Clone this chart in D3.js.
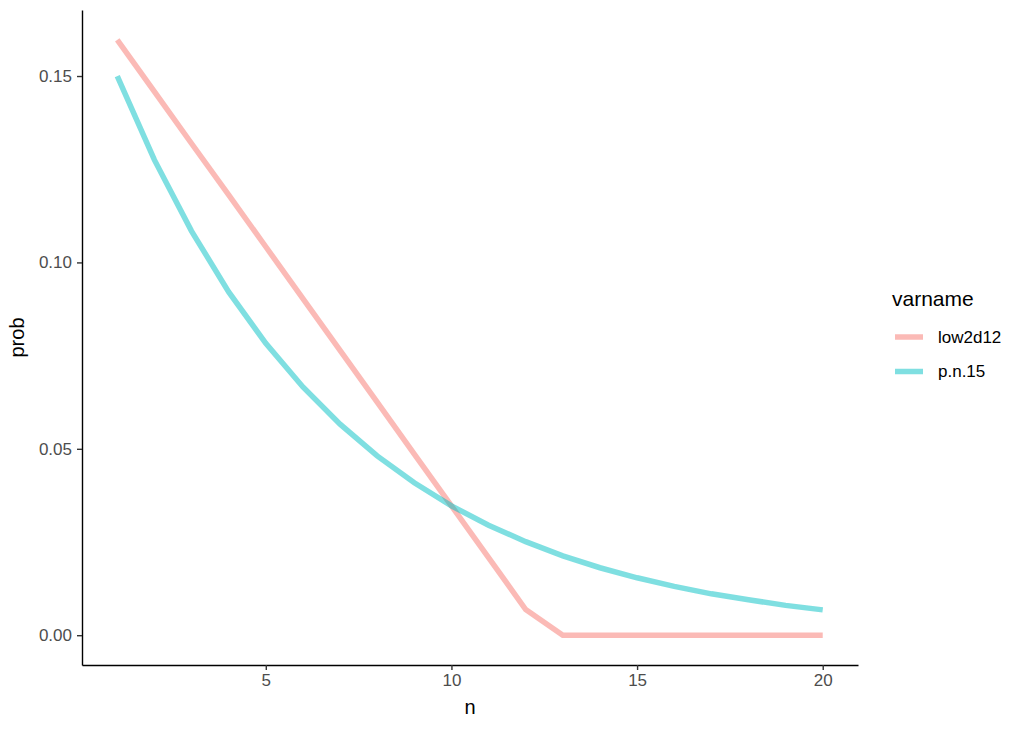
<!DOCTYPE html>
<html>
<head>
<meta charset="utf-8">
<script src="https://cdn.jsdelivr.net/npm/d3@7"></script>
<style>
  body { margin: 0; background: #fff; }
  text { font-family: "Liberation Sans", Arial, sans-serif; }
</style>
</head>
<body>
<div id="chart"></div>
<script>
let width = 1024, height = 731;

// data
const nValues = [1, 2, 3, 4, 5, 6, 7, 8, 9, 10, 11, 12, 13, 14, 15, 16, 17, 18, 19, 20];
const low2d12 = [0.1597, 0.1458, 0.1319, 0.1181, 0.1042, 0.0903, 0.0764, 0.0625, 0.0486, 0.0347,
  0.0208, 0.0069, 0, 0, 0, 0, 0, 0, 0, 0];
const pn15 = [0.15, 0.1275, 0.1084, 0.0921, 0.0783, 0.0666, 0.0566, 0.0481, 0.0409, 0.0347,
  0.0295, 0.0251, 0.0213, 0.0181, 0.0154, 0.0131, 0.0111, 0.0095, 0.0080, 0.0068];
const seriesNames = ['low2d12', 'p.n.15'];
const seriesColors = ['#F8766D', '#00BFC4'];
const xTicks = [5, 10, 15, 20];
const yTicks = [0, 0.05, 0.10, 0.15];

const series = [low2d12, pn15];

const plotLeft = 82, plotRight = 858, plotTop = 10, plotBottom = 665;

const svg = d3.select('#chart').append('svg')
  .attr('width', width)
  .attr('height', height);

const x = d3.scaleLinear()
  .domain([0.05, 20.95])
  .range([plotLeft, plotRight]);

const y = d3.scaleLinear()
  .domain([-0.00799, 0.16771])
  .range([plotBottom, plotTop]);

// lines
const line = d3.line()
  .x((d, i) => x(nValues[i]))
  .y(d => y(d));

svg.append('g').selectAll('path')
  .data(series)
  .join('path')
    .attr('d', line)
    .attr('fill', 'none')
    .attr('stroke', (d, i) => seriesColors[i])
    .attr('stroke-opacity', 0.5)
    .attr('stroke-width', 5.5);

// axes
const xAxis = svg.append('g')
  .attr('transform', `translate(0,${plotBottom})`)
  .call(d3.axisBottom(x).tickValues(xTicks).tickFormat(d3.format('d')).tickSize(5).tickSizeOuter(0).tickPadding(4));

const yAxis = svg.append('g')
  .attr('transform', `translate(${plotLeft},0)`)
  .call(d3.axisLeft(y).tickValues(yTicks).tickFormat(d3.format('.2f')).tickSize(5).tickSizeOuter(0).tickPadding(5));

[xAxis, yAxis].forEach(a => {
  a.select('.domain').attr('stroke', '#000').attr('stroke-width', 1.4);
  a.selectAll('.tick line').attr('stroke', '#333').attr('stroke-width', 1.4);
  a.selectAll('.tick text').attr('fill', '#4D4D4D').style('font-size', '17px');
});

// axis titles
svg.append('text')
  .attr('x', (plotLeft + plotRight) / 2)
  .attr('y', 714)
  .attr('text-anchor', 'middle')
  .style('font-size', '20px')
  .attr('fill', '#000')
  .text('n');

svg.append('text')
  .attr('transform', `translate(24,${(plotTop + plotBottom) / 2}) rotate(-90)`)
  .attr('text-anchor', 'middle')
  .style('font-size', '20px')
  .attr('fill', '#000')
  .text('prob');

// legend
const legend = svg.append('g').attr('transform', 'translate(892,0)');

legend.append('text')
  .attr('x', 0)
  .attr('y', 306)
  .style('font-size', '21px')
  .attr('fill', '#000')
  .text('varname');

const keys = legend.selectAll('g.key')
  .data(seriesNames)
  .join('g')
    .attr('class', 'key')
    .attr('transform', (d, i) => `translate(0,${337 + i * 34.5})`);

keys.append('line')
  .attr('x1', 3)
  .attr('x2', 31)
  .attr('stroke', (d, i) => seriesColors[i])
  .attr('stroke-opacity', 0.5)
  .attr('stroke-width', 5.5);

keys.append('text')
  .attr('x', 46)
  .attr('dy', '0.35em')
  .style('font-size', '17px')
  .attr('fill', '#000')
  .text(d => d);
</script>
</body>
</html>
